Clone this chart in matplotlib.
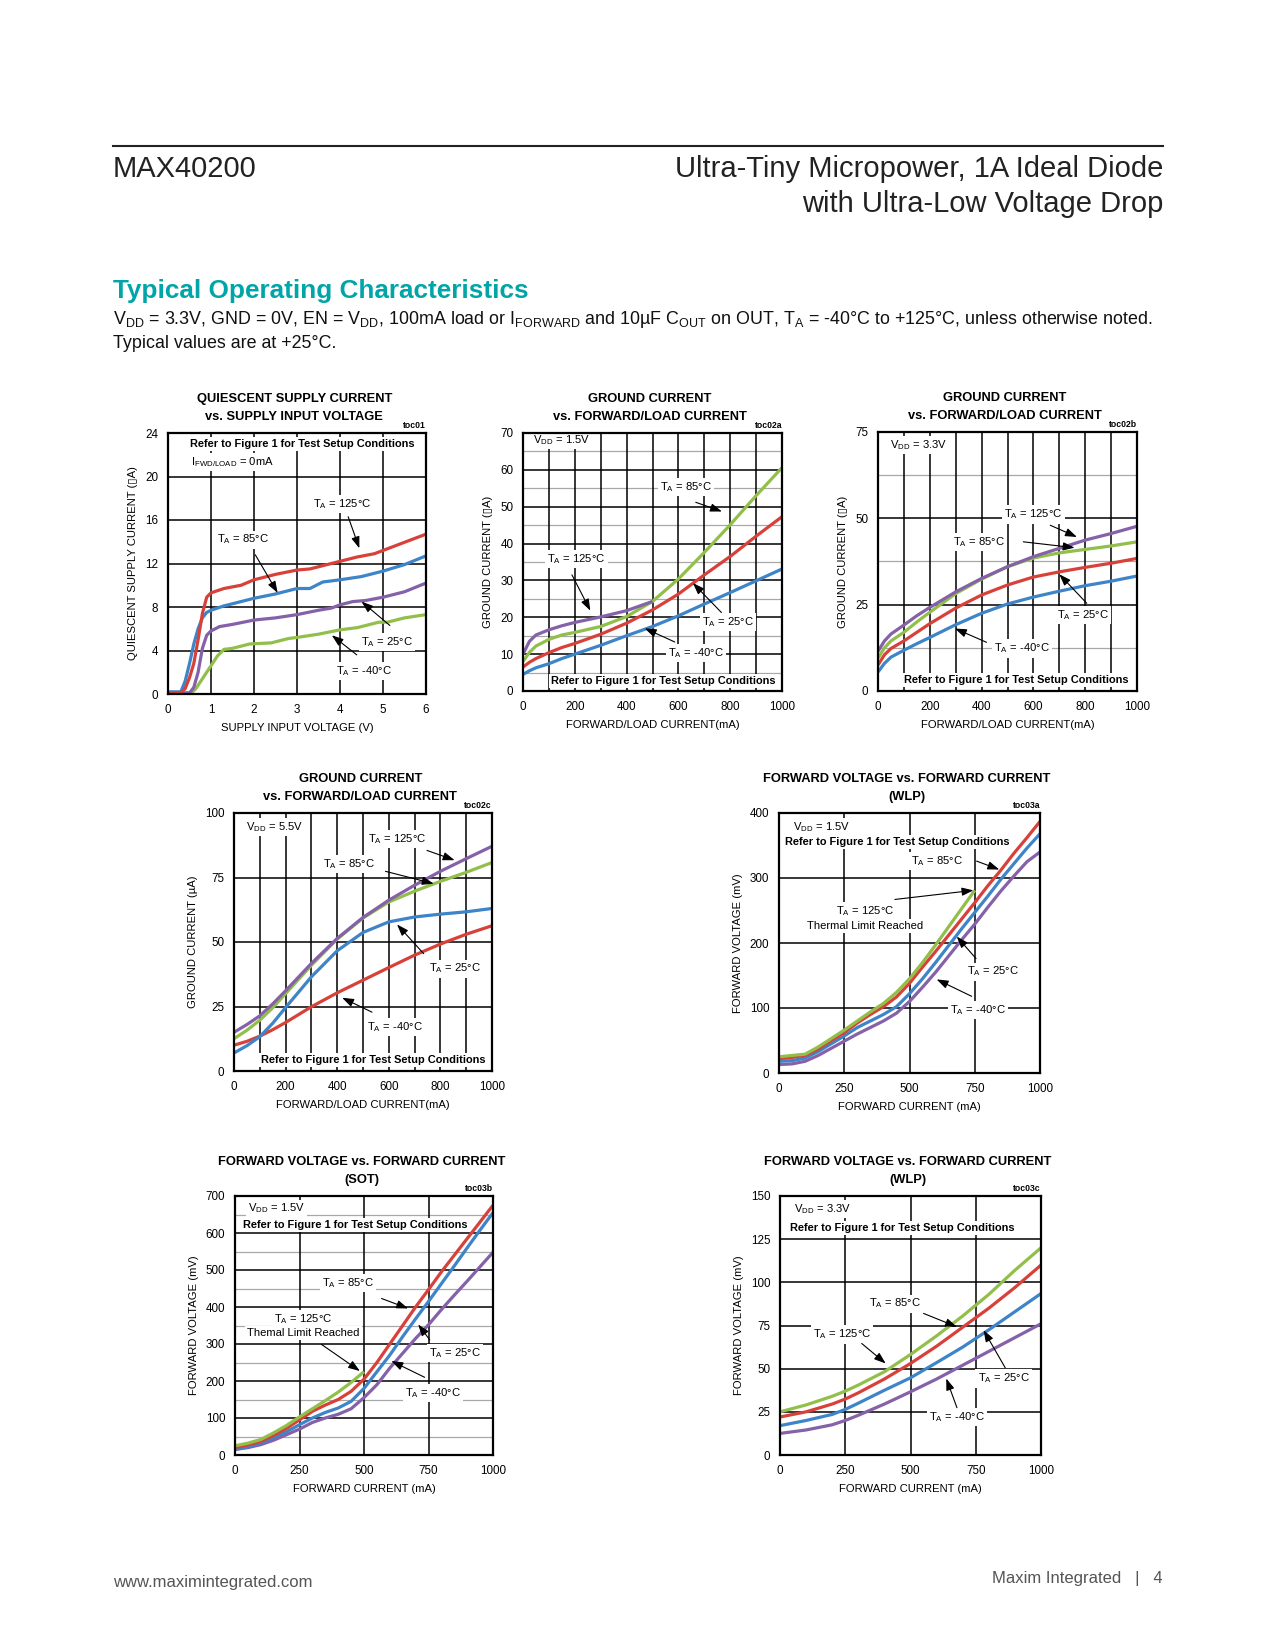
import numpy as np
import matplotlib
matplotlib.use("Agg")
import matplotlib.pyplot as plt

plt.rcParams['font.family'] = ['Liberation Sans', 'DejaVu Sans']
plt.rcParams['mathtext.default'] = 'regular'

W, H = 1275, 1650

RED = '#d8413a'
BLUE = '#3d84c8'
GREEN = '#92bf4a'
PURPLE = '#8461a8'

# ---- toc01: quiescent supply current vs supply voltage ----
q_red_x = [0, 0.3, 0.4, 0.5, 0.6, 0.7, 0.8, 0.9, 1.0, 1.3, 1.7, 2.0, 2.5, 3.0, 3.3, 3.7, 4.0, 4.4, 4.8, 5.2, 5.6, 6.0]
q_red_y = [0.1, 0.1, 0.5, 1.5, 2.8, 5.0, 7.4, 8.9, 9.3, 9.7, 10.0, 10.5, 11.0, 11.4, 11.5, 11.9, 12.2, 12.6, 12.9, 13.5, 14.1, 14.7]
q_blue_x = [0, 0.3, 0.4, 0.5, 0.6, 0.7, 0.8, 0.9, 1.0, 1.3, 1.7, 2.0, 2.5, 3.0, 3.3, 3.6, 4.0, 4.5, 5.0, 5.5, 6.0]
q_blue_y = [0.2, 0.2, 1.2, 2.8, 4.6, 6.0, 7.0, 7.5, 7.7, 8.1, 8.5, 8.8, 9.2, 9.7, 9.7, 10.3, 10.5, 10.8, 11.3, 11.9, 12.7]
q_purple_x = [0, 0.5, 0.6, 0.7, 0.8, 0.9, 1.0, 1.2, 1.5, 2.0, 2.5, 3.0, 3.5, 3.8, 4.0, 4.3, 4.6, 5.0, 5.5, 6.0]
q_purple_y = [0.1, 0.1, 0.6, 2.0, 4.2, 5.4, 5.8, 6.2, 6.4, 6.8, 7.0, 7.3, 7.7, 7.9, 8.2, 8.5, 8.6, 8.9, 9.4, 10.2]
q_green_x = [0, 0.55, 0.65, 0.8, 1.0, 1.15, 1.3, 1.5, 1.9, 2.4, 2.8, 3.0, 3.5, 4.0, 4.4, 4.9, 5.1, 5.5, 6.0]
q_green_y = [0.1, 0.1, 0.5, 1.4, 2.6, 3.5, 4.1, 4.2, 4.6, 4.7, 5.1, 5.2, 5.5, 5.9, 6.1, 6.6, 6.6, 7.0, 7.3]

# ---- toc02a: ground current, VDD = 1.5V ----
g15_x = [0, 25, 50, 100, 150, 200, 300, 400, 500, 600, 700, 800, 900, 1000]
g15_purple = [10, 13.5, 15.2, 16.6, 17.7, 18.6, 20.1, 21.8, 24.3]
g15_green = [8, 10.5, 12.2, 14.0, 15.2, 15.9, 17.5, 20.2, 24.3, 30.4, 37.6, 45.1, 53.0, 60.6]
g15_red = [6.5, 7.8, 8.8, 10.4, 11.8, 12.9, 15.4, 18.4, 22.0, 26.3, 31.5, 36.5, 42.0, 47.3]
g15_blue = [4.5, 5.5, 6.3, 7.4, 8.8, 10.0, 12.4, 15.0, 17.5, 20.4, 23.6, 26.7, 29.9, 33.1]

# ---- toc02b: ground current, VDD = 3.3V ----
g33_x = [0, 25, 50, 100, 150, 200, 300, 400, 500, 600, 700, 800, 900, 1000]
g33_purple = [11.5, 14.5, 16.5, 19.1, 21.8, 24.2, 28.7, 32.6, 36.0, 38.9, 41.3, 43.7, 45.6, 47.7]
g33_green = [9.5, 12.5, 14.5, 17.0, 20.0, 22.8, 28.2, 32.4, 36.0, 38.5, 40.0, 41.0, 42.0, 43.2]
g33_red = [7.5, 10.5, 12.3, 14.5, 17.0, 19.5, 24.0, 27.8, 30.7, 33.0, 34.5, 35.8, 37.0, 38.4]
g33_blue = [5.5, 8.0, 9.8, 11.8, 13.7, 15.5, 19.2, 22.5, 25.2, 27.2, 28.9, 30.5, 31.8, 33.3]

# ---- toc02c: ground current, VDD = 5.5V ----
g55_x = [0, 50, 100, 150, 200, 300, 400, 500, 600, 700, 800, 900, 1000]
g55_purple = [15, 18, 21.4, 26, 31.1, 41.7, 51.4, 59.5, 66.2, 72.0, 77.4, 82.3, 87.1]
g55_green = [12.5, 15.8, 19.7, 24.5, 30.0, 41.0, 51.1, 59.3, 65.5, 69.7, 73.5, 77.0, 80.8]
g55_blue = [7, 9.8, 13.3, 18.5, 24.6, 36.5, 46.6, 53.7, 57.8, 59.7, 60.8, 61.7, 63.0]
g55_red = [10, 11.5, 13.5, 16.0, 18.8, 24.9, 30.3, 35.2, 40.1, 44.9, 49.2, 53.0, 56.3]

# ---- toc03a: forward voltage WLP, VDD = 1.5V ----
fa_x = [0, 50, 100, 150, 200, 250, 300, 350, 400, 450, 500, 550, 600, 650, 700, 750, 800, 850, 900, 950, 1000]
fa_green = [25, 27, 29, 40, 53, 66, 80, 94, 107, 124, 145, 170, 197, 225, 253, 281]
fa_red = [22, 24, 27, 37, 50, 62, 77, 90, 102, 117, 138, 163, 187, 212, 237, 262, 288, 312, 338, 362, 387]
fa_blue = [18, 19, 23, 33, 45, 57, 70, 80, 90, 102, 122, 145, 170, 196, 222, 247, 272, 298, 322, 346, 368]
fa_purple = [13, 14, 18, 27, 38, 49, 60, 70, 80, 92, 110, 132, 155, 180, 205, 229, 255, 280, 303, 325, 340]

# ---- toc03b: forward voltage SOT, VDD = 1.5V ----
fb_x = [0, 50, 100, 150, 200, 250, 300, 350, 400, 450, 500, 550, 600, 650, 700, 750, 800, 850, 900, 950, 1000]
fb_green = [25, 32, 42, 60, 80, 103, 125, 147, 170, 196, 225]
fb_red = [20, 27, 37, 53, 72, 95, 118, 135, 150, 172, 205, 250, 300, 350, 400, 447, 495, 540, 585, 630, 675]
fb_blue = [15, 22, 33, 47, 63, 82, 100, 115, 127, 145, 180, 225, 270, 320, 368, 415, 463, 511, 560, 608, 655]
fb_purple = [15, 20, 28, 40, 55, 70, 88, 100, 110, 125, 155, 190, 235, 275, 315, 352, 393, 432, 470, 509, 548]

# ---- toc03c: forward voltage WLP, VDD = 3.3V ----
fc_x = [0, 100, 200, 250, 300, 400, 500, 600, 700, 800, 900, 1000]
fc_green = [25, 29, 34, 37, 40.5, 48.2, 58.2, 69, 80.5, 93, 107, 120]
fc_red = [22, 25, 29.5, 32.4, 36, 44, 53, 63, 74, 85, 97, 110]
fc_blue = [17, 20, 23.5, 26.4, 30, 37.5, 44.7, 53.5, 62.5, 72.5, 83, 93.5]
fc_purple = [12.5, 14.5, 17.5, 20, 23, 29.5, 36.6, 44, 52, 60, 68, 76]

TA = 'T$_{\\mathregular{A}}$ = '
BOX = dict(facecolor='white', edgecolor='none', pad=1.5)
FS = 8.1       # in-plot labels
FS_TICK = 8.4
FS_AX = 8.1
FS_REF = 7.9

fig = plt.figure(figsize=(W / 100, H / 100), dpi=100)


def make_axes(l, t, r, b, xlim, ylim, xticks, yticks, xgrid, ygrid, ygray=None):
    ax = fig.add_axes([l / W, 1 - b / H, (r - l) / W, (b - t) / H])
    ax.set_xlim(*xlim)
    ax.set_ylim(*ylim)
    ax.set_xticks(xticks)
    ax.set_yticks(yticks)
    ax.tick_params(which='both', length=0, labelsize=FS_TICK)
    ax.tick_params(axis='x', pad=7)
    ax.tick_params(axis='y', pad=7)
    for s in ax.spines.values():
        s.set_linewidth(1.6)
    for v in xgrid:
        ax.axvline(v, color='black', lw=1.1, zorder=0.5)
    for v in ygrid:
        ax.axhline(v, color='black', lw=1.1, zorder=0.5)
    if ygray is not None:
        for v in ygray:
            ax.axhline(v, color='#a8a8a8', lw=0.9, zorder=0.4)
    return ax


def titles(ax, lines, toc):
    ax.text(0.49, 1.0 + 34 / ax.bbox.height, lines[0], transform=ax.transAxes, ha='center', va='center',
            fontsize=9.3, fontweight='bold')
    ax.text(0.49, 1.0 + 16 / ax.bbox.height, lines[1], transform=ax.transAxes, ha='center', va='center',
            fontsize=9.3, fontweight='bold')
    ax.text(1.0, 1.012, toc, transform=ax.transAxes, ha='right', va='bottom', fontsize=6.2, fontweight='bold')


def axis_labels(ax, xl, yl):
    ax.set_xlabel(xl, fontsize=FS_AX, labelpad=5)
    ax.set_ylabel(yl, fontsize=FS_AX, labelpad=5)


def curve(ax, x, y, c):
    ax.plot(x[:len(y)], y, color=c, lw=2.3, zorder=2, solid_capstyle='butt', solid_joinstyle='round')


def label(ax, x, y, s, **kw):
    ax.text(x, y, s, fontsize=FS, ha='center', va='center', bbox=BOX, zorder=1.5, **kw)


def arrow(ax, x0, y0, x1, y1):
    ax.annotate('', xy=(x1, y1), xytext=(x0, y0),
                arrowprops=dict(arrowstyle='-|>,head_length=0.7,head_width=0.25', color='black', lw=0.8,
                                shrinkA=0, shrinkB=0), zorder=3)


def refer(ax, x, y, **kw):
    ax.text(x, y, 'Refer to Figure 1 for Test Setup Conditions', fontsize=FS_REF, fontweight='bold',
            bbox=BOX, zorder=1.5, **kw)


def vdd(ax, x, y, s):
    ax.text(x, y, s, fontsize=FS, va='center', bbox=BOX, zorder=1.5)


# ---------------- page header ----------------
fig.add_artist(plt.Line2D([113 / W, 1163 / W], [1 - 146 / H, 1 - 146 / H], color='#222222', lw=1.5))
fig.text(113 / W, 1 - 177 / H, 'MAX40200', fontsize=21, color='#222222', va='baseline')
fig.text(1163 / W, 1 - 177 / H, 'Ultra-Tiny Micropower, 1A Ideal Diode', fontsize=21,
         color='#222222', ha='right', va='baseline')
fig.text(1163 / W, 1 - 212 / H, 'with Ultra-Low Voltage Drop', fontsize=21,
         color='#222222', ha='right', va='baseline')
fig.text(113 / W, 1 - 291 / H, 'Typical Operating Characteristics', fontsize=18.8, fontweight='bold',
         color='#00a5a8', va='center')
fig.text(113 / W, 1 - 320 / H,
         'V$_{DD}$ = 3.3V, GND = 0V, EN = V$_{DD}$, 100mA load or I$_{FORWARD}$ and 10µF C$_{OUT}$ on OUT, '
         'T$_{A}$ = -40°C to +125°C, unless otherwise noted.',
         fontsize=12.9, color='#111111', va='center')
fig.text(113 / W, 1 - 343 / H, 'Typical values are at +25°C.', fontsize=12.9,
         color='#111111', va='center')
fig.text(113 / W, 1 - 1583 / H, 'www.maximintegrated.com', fontsize=12, color='#555555', va='center')
fig.text(1163 / W, 1 - 1578 / H, 'Maxim Integrated   |   4', fontsize=12, color='#555555',
         ha='right', va='center')

# ---------------- toc01 ----------------
ax = make_axes(168, 433, 426, 694, (0, 6), (0, 24), range(0, 7), range(0, 25, 4),
               range(1, 6), range(4, 24, 4))
titles(ax, ['QUIESCENT SUPPLY CURRENT', 'vs. SUPPLY INPUT VOLTAGE'], 'toc01')
curve(ax, q_green_x, q_green_y, GREEN)
curve(ax, q_purple_x, q_purple_y, PURPLE)
curve(ax, q_blue_x, q_blue_y, BLUE)
curve(ax, q_red_x, q_red_y, RED)
axis_labels(ax, 'SUPPLY INPUT VOLTAGE (V)', 'QUIESCENT SUPPLY CURRENT (\u25afA)')
refer(ax, 3.12, 23.0, ha='center', va='center')
ax.text(0.53, 21.3, 'I$_{FWD/LOAD}$ = 0mA', fontsize=FS, va='center', bbox=BOX, zorder=1.5)
label(ax, 4.05, 17.5, TA + '125°C')
arrow(ax, 4.19, 16.3, 4.45, 13.4)
label(ax, 1.75, 14.2, TA + '85°C')
arrow(ax, 2.03, 12.8, 2.55, 9.3)
label(ax, 5.1, 4.8, TA + '25°C')
arrow(ax, 5.16, 6.3, 4.5, 8.5)
label(ax, 4.55, 2.1, TA + '-40°C')
arrow(ax, 4.39, 3.6, 3.81, 5.4)

# ---------------- toc02a ----------------
ax = make_axes(523, 433, 782, 691, (0, 1000), (0, 70), range(0, 1001, 200), range(0, 71, 10),
               range(100, 1000, 100), range(10, 70, 10), range(5, 70, 10))
titles(ax, ['GROUND CURRENT', 'vs. FORWARD/LOAD CURRENT'], 'toc02a')
curve(ax, g15_x, g15_blue, BLUE)
curve(ax, g15_x, g15_red, RED)
curve(ax, g15_x, g15_green, GREEN)
curve(ax, g15_x, g15_purple, PURPLE)
axis_labels(ax, 'FORWARD/LOAD CURRENT(mA)', 'GROUND CURRENT (\u25afA)')
vdd(ax, 37, 68, 'V$_{DD}$ = 1.5V')
refer(ax, 540, 2.7, ha='center', va='center')
label(ax, 630, 55.3, TA + '85°C')
arrow(ax, 667, 51.2, 768, 48.7)
label(ax, 206, 35.8, TA + '125°C')
arrow(ax, 189, 31.5, 260, 21.8)
label(ax, 791, 18.6, TA + '25°C')
arrow(ax, 766, 21.3, 656, 29.3)
label(ax, 669, 10.4, TA + '-40°C')
arrow(ax, 586, 13.3, 470, 17.0)

# ---------------- toc02b ----------------
ax = make_axes(878, 432, 1137, 691, (0, 1000), (0, 75), range(0, 1001, 200), range(0, 76, 25),
               range(100, 1000, 100), [25, 50], [12.5, 37.5, 62.5])
titles(ax, ['GROUND CURRENT', 'vs. FORWARD/LOAD CURRENT'], 'toc02b')
curve(ax, g33_x, g33_blue, BLUE)
curve(ax, g33_x, g33_red, RED)
curve(ax, g33_x, g33_green, GREEN)
curve(ax, g33_x, g33_purple, PURPLE)
axis_labels(ax, 'FORWARD/LOAD CURRENT(mA)', 'GROUND CURRENT (\u25afA)')
vdd(ax, 45, 71.2, 'V$_{DD}$ = 3.3V')
refer(ax, 535, 3.2, ha='center', va='center')
label(ax, 600, 51.1, TA + '125°C')
arrow(ax, 665, 48.0, 768, 44.6)
label(ax, 390, 43.2, TA + '85°C')
arrow(ax, 561, 43.2, 759, 41.5)
label(ax, 790, 22.0, TA + '25°C')
arrow(ax, 806, 25.4, 700, 33.8)
label(ax, 555, 12.3, TA + '-40°C')
arrow(ax, 419, 14.1, 297, 18.1)

# ---------------- toc02c ----------------
ax = make_axes(234, 813, 492, 1071, (0, 1000), (0, 100), range(0, 1001, 200), range(0, 101, 25),
               range(100, 1000, 100), [25, 50, 75])
titles(ax, ['GROUND CURRENT', 'vs. FORWARD/LOAD CURRENT'], 'toc02c')
curve(ax, g55_x, g55_red, RED)
curve(ax, g55_x, g55_blue, BLUE)
curve(ax, g55_x, g55_green, GREEN)
curve(ax, g55_x, g55_purple, PURPLE)
axis_labels(ax, 'FORWARD/LOAD CURRENT(mA)', 'GROUND CURRENT (µA)')
vdd(ax, 45, 94.7, 'V$_{DD}$ = 5.5V')
refer(ax, 540, 4.2, ha='center', va='center')
label(ax, 632, 89.8, TA + '125°C')
arrow(ax, 748, 85.5, 855, 81.7)
label(ax, 444, 80.1, TA + '85°C')
arrow(ax, 587, 77.4, 774, 72.6)
label(ax, 858, 39.7, TA + '25°C')
arrow(ax, 735, 45.5, 632, 56.8)
label(ax, 625, 17.2, TA + '-40°C')
arrow(ax, 535, 22.8, 419, 28.4)

# ---------------- toc03a ----------------
ax = make_axes(779, 813, 1040, 1073, (0, 1000), (0, 400), range(0, 1001, 250), range(0, 401, 100),
               [250, 500, 750], [100, 200, 300])
titles(ax, ['FORWARD VOLTAGE vs. FORWARD CURRENT', '(WLP)'], 'toc03a')
curve(ax, fa_x, fa_purple, PURPLE)
curve(ax, fa_x, fa_blue, BLUE)
curve(ax, fa_x, fa_red, RED)
curve(ax, fa_x, fa_green, GREEN)
axis_labels(ax, 'FORWARD CURRENT (mA)', 'FORWARD VOLTAGE (mV)')
vdd(ax, 52, 379, 'V$_{DD}$ = 1.5V')
refer(ax, 23, 356, ha='left', va='center')
label(ax, 604, 326, TA + '85°C')
arrow(ax, 757, 326, 844, 313)
label(ax, 330, 249, TA + '125°C')
label(ax, 330, 226, 'Thermal Limit Reached')
arrow(ax, 444, 267, 745, 281)
label(ax, 821, 156, TA + '25°C')
arrow(ax, 755, 176, 681, 210)
label(ax, 764, 97, TA + '-40°C')
arrow(ax, 738, 118, 604, 144)

# ---------------- toc03b ----------------
ax = make_axes(235, 1196, 493, 1455, (0, 1000), (0, 700), range(0, 1001, 250), range(0, 701, 100),
               [250, 500, 750], range(100, 700, 100), range(50, 700, 100))
titles(ax, ['FORWARD VOLTAGE vs. FORWARD CURRENT', '(SOT)'], 'toc03b')
curve(ax, fb_x, fb_purple, PURPLE)
curve(ax, fb_x, fb_blue, BLUE)
curve(ax, fb_x, fb_red, RED)
curve(ax, fb_x, fb_green, GREEN)
axis_labels(ax, 'FORWARD CURRENT (mA)', 'FORWARD VOLTAGE (mV)')
vdd(ax, 50, 666, 'V$_{DD}$ = 1.5V')
refer(ax, 31, 621, ha='left', va='center')
label(ax, 439, 464, TA + '85°C')
arrow(ax, 568, 423, 671, 396)
label(ax, 265, 367, TA + '125°C')
label(ax, 265, 329, 'Themal Limit Reached')
arrow(ax, 335, 299, 484, 227)
label(ax, 852, 275, TA + '25°C')
arrow(ax, 755, 311, 710, 353)
label(ax, 768, 167, TA + '-40°C')
arrow(ax, 735, 210, 606, 254)

# ---------------- toc03c ----------------
ax = make_axes(780, 1196, 1041, 1455, (0, 1000), (0, 150), range(0, 1001, 250), range(0, 151, 25),
               [250, 500, 750], range(25, 150, 25))
titles(ax, ['FORWARD VOLTAGE vs. FORWARD CURRENT', '(WLP)'], 'toc03c')
curve(ax, fc_x, fc_purple, PURPLE)
curve(ax, fc_x, fc_blue, BLUE)
curve(ax, fc_x, fc_red, RED)
curve(ax, fc_x, fc_green, GREEN)
axis_labels(ax, 'FORWARD CURRENT (mA)', 'FORWARD VOLTAGE (mV)')
vdd(ax, 54, 142.6, 'V$_{DD}$ = 3.3V')
refer(ax, 38, 131.7, ha='left', va='center')
label(ax, 441, 87.7, TA + '85°C')
arrow(ax, 550, 82, 678, 74.2)
label(ax, 237, 69.8, TA + '125°C')
arrow(ax, 313, 64.6, 405, 53)
label(ax, 857, 44.3, TA + '25°C')
arrow(ax, 863, 50.5, 780, 72.3)
label(ax, 678, 22.2, TA + '-40°C')
arrow(ax, 678, 27.4, 637, 44.3)

fig.savefig('out.png', dpi=100, facecolor='white')
